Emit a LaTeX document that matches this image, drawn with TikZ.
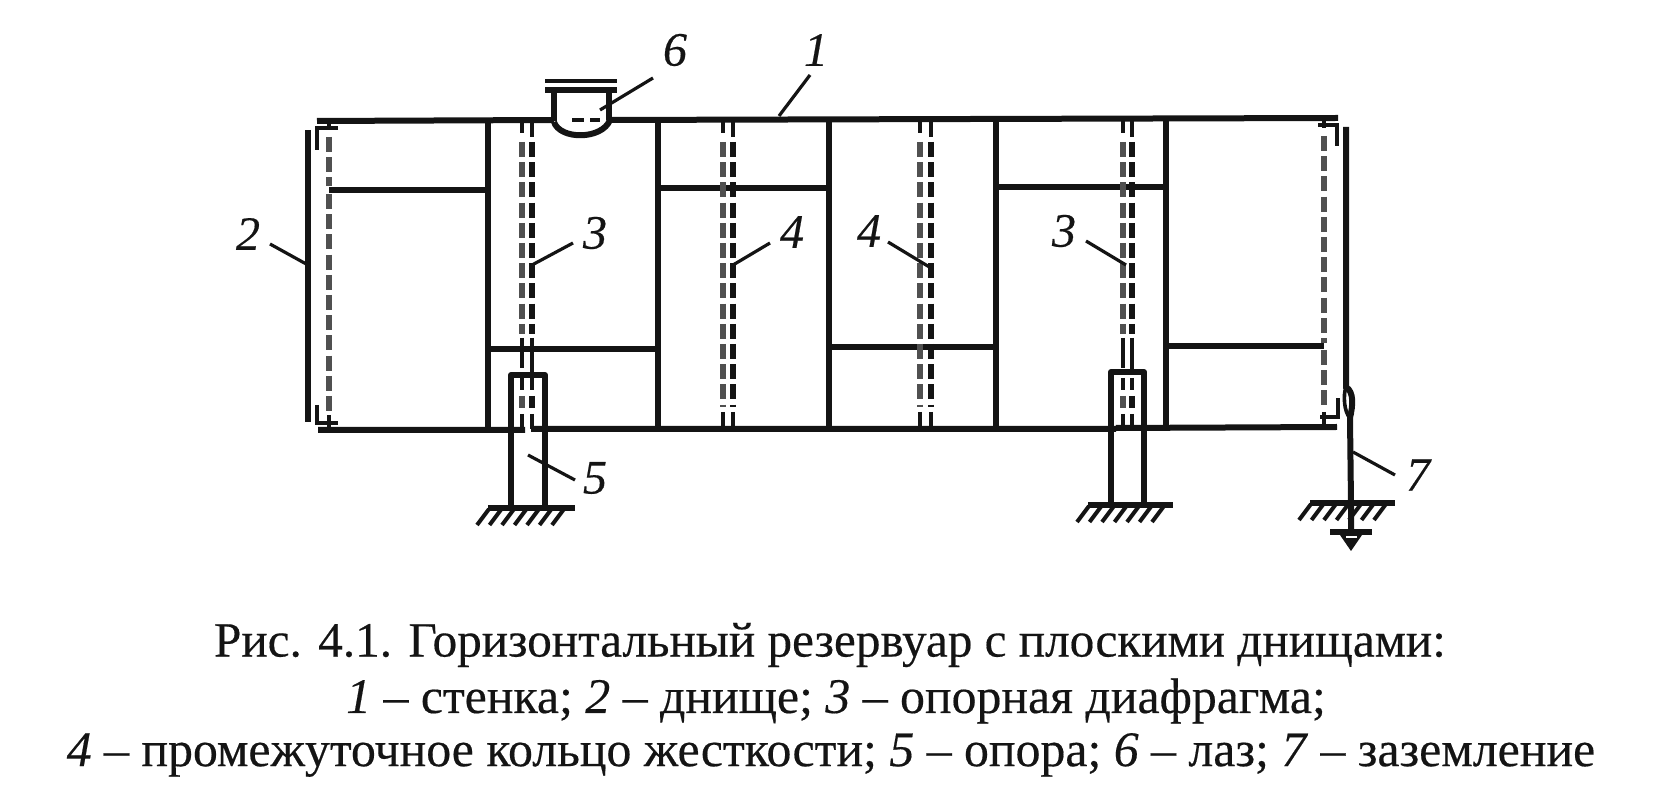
\documentclass[tikz,border=0pt]{standalone}
\usepackage{fontspec}
\setmainfont[FakeBold=0.35]{Liberation Serif}
\usetikzlibrary{calc}
\definecolor{ink}{HTML}{141414}
\definecolor{grayink}{HTML}{505050}
\tikzset{
  wall/.style={draw=ink,line width=3pt},
  seam/.style={draw=ink,line width=2.8pt},
  thinline/.style={draw=ink,line width=1.8pt},
  leader/.style={draw=ink,line width=1.6pt},
  dashA/.style={draw=grayink,line width=2.8pt,dash pattern=on 7.5pt off 2.6pt},
  dashB/.style={draw=ink,line width=2.8pt,dash pattern=on 7.5pt off 2.6pt},
  tick/.style={draw=ink,line width=2pt},
  num/.style={font=\fontsize{24}{24}\selectfont\itshape,text=ink,inner sep=0pt},
  captext/.style={font=\fontsize{24.9}{25}\selectfont,text=ink,inner sep=0pt,anchor=center},
  captop/.style={captext,font=\fontsize{24.6}{25}\selectfont},
  hatch/.style={draw=ink,line width=2pt},
}
\newcommand{\hatches}[3]{% x start, x end, y
  \foreach \hx in {#1,...,#2} {\draw[hatch] (\hx,#3) -- ++(-12,16);}
}
\begin{document}
\begin{tikzpicture}[x=0.5pt,y=-0.5pt]
\useasboundingbox (0,0) rectangle (1678,806);
% shell
\draw[wall] (317,121) -- (554,120) (608,120) -- (1338,118);
\draw[wall] (318,430) -- (525,430) (531,429) -- (1116,429) (1116,428) -- (1337,427);
\draw[thinline,dash pattern=on 6pt off 3pt] (572,120) -- (600,120);
% end plates
\draw[wall] (308,130) -- (308,422);
\draw[wall] (1346,127) -- (1346,387) .. controls (1354,392) and (1353,405) .. (1350,418) -- (1351,503) -- (1351,532);
\draw[thinline] (1346,387) .. controls (1343,395) and (1344,412) .. (1350,418);
% corners
\draw[tick] (338,128) -- (317,128) -- (317,150);
\draw[tick] (317,405) -- (317,423) -- (338,423);
\draw[tick] (1318,125) -- (1337,125) -- (1337,146);
\draw[tick] (1320,417) -- (1338,417) -- (1338,398);
\draw[tick] (329,121) -- (329,130) (329,415) -- (329,430) (1324,119) -- (1324,128) (1324,412) -- (1324,427);
% end dashes
\draw[dashA] (329,137) -- (329,186);
\draw[dashA] (329,194) -- (329,412);
\draw[dashA] (1324,136) -- (1324,343);
\draw[dashA] (1324,350) -- (1324,408);
% seams
\foreach \sx/\sa/\sb in {488/121/430,658/120/429,829/119/429,996/119/428,1166/118/427} {\draw[wall] (\sx,\sa) -- (\sx,\sb);}
\draw[seam] (329,190) -- (488,190);
\draw[seam] (658,188) -- (829,188);
\draw[seam] (996,187) -- (1166,187);
\draw[seam] (488,349) -- (658,349);
\draw[seam] (829,347) -- (996,347);
\draw[seam] (1166,346) -- (1324,346);
% ring pairs
\foreach \xa/\xb in {522/532,723/733,920/931,1123/1132} {
  \draw[tick] (\xa,120) -- (\xa,133) (\xb,120) -- (\xb,137);
}
\foreach \xa/\xb in {723/733,920/931} {
  \draw[dashA] (\xa,142) -- (\xa,407);
  \draw[dashB] (\xb,142) -- (\xb,407);
  \draw[tick] (\xa,412) -- (\xa,429) (\xb,412) -- (\xb,429);
}
\foreach \xa/\xb in {522/532,1123/1132} {
  \draw[dashA] (\xa,142) -- (\xa,334);
  \draw[dashB] (\xb,142) -- (\xb,334);
  \draw[tick] (\xa,338) -- (\xa,368) (\xb,338) -- (\xb,375);
  \draw[tick] (\xa,378) -- (\xa,390) (\xb,378) -- (\xb,390);
  \draw[dashA] (\xa,396) -- (\xa,408);
  \draw[dashB] (\xb,396) -- (\xb,408);
  \draw[tick] (\xa,414) -- (\xa,429) (\xb,414) -- (\xb,429);
}
% supports
\draw[wall,line join=round] (511,508) -- (511,375) -- (545,375) -- (545,508);
\draw[wall,line join=round] (1111,505) -- (1111,372) -- (1144,372) -- (1144,505);
\draw[seam] (488,508) -- (575,508);
\draw[seam] (1088,505) -- (1173,505);
\draw[seam] (1310,503) -- (1395,503);
\hatches{489,501.5}{564}{509}
\hatches{1089,1101.5}{1164}{506}
\hatches{1311,1323.5}{1386}{504}
% earth symbol
\draw[seam] (1330,532) -- (1372,532);
\fill[ink] (1340,535) -- (1362,535) -- (1351,551) -- cycle;
\fill[white] (1346,536) rectangle (1357,538);
% manhole
\draw[thinline] (545,81) -- (617,81);
\draw[seam] (545,90) -- (617,90);
\draw[wall] (554,90) -- (554,121);
\draw[seam] (609,90) -- (609,120);
\draw[wall] (554,122) .. controls (560,140) and (602,140) .. (610,120);
% labels
\node[num] (n1) at (816,50) {1};
\node[num] (n2) at (248,234) {2};
\node[num] (n3a) at (595,233) {3};
\node[num] (n3b) at (1064,231) {3};
\node[num] (n4a) at (792,232) {4};
\node[num] (n4b) at (869,231) {4};
\node[num] (n5) at (595,478) {5};
\node[num] (n6) at (675,50) {6};
\node[num] (n7) at (1418,475) {7};
% leaders
\coordinate (t1) at (779,116); \coordinate (e1) at (810,75);
\coordinate (t2) at (308,265); \coordinate (e2) at (270,244);
\coordinate (t3a) at (532,265); \coordinate (e3a) at (573,243);
\coordinate (t3b) at (1126,265); \coordinate (e3b) at (1086,241);
\coordinate (t4a) at (733,265); \coordinate (e4a) at (770,243);
\coordinate (t4b) at (931,268); \coordinate (e4b) at (888,242);
\coordinate (t5) at (528,455); \coordinate (e5) at (575,480);
\coordinate (t6) at (600,110); \coordinate (e6) at (653,78);
\coordinate (t7) at (1353,452); \coordinate (e7) at (1395,475);
\foreach \k in {1,2,3a,3b,4a,4b,5,6,7} {\draw[leader] (t\k) -- (e\k);}
% caption
\node[captop] (c1) at (830,645) {Рис. 4.1. Горизонтальный резервуар с плоскими днищами:};
\node[captext] (c2) at (836,701) {\textit{1} – стенка; \textit{2} – днище; \textit{3} – опорная диафрагма;};
\node[captext] (c3) at (831,755) {\textit{4} – промежуточное кольцо жесткости; \textit{5} – опора; \textit{6} – лаз; \textit{7} – заземление};
\end{tikzpicture}
\end{document}
